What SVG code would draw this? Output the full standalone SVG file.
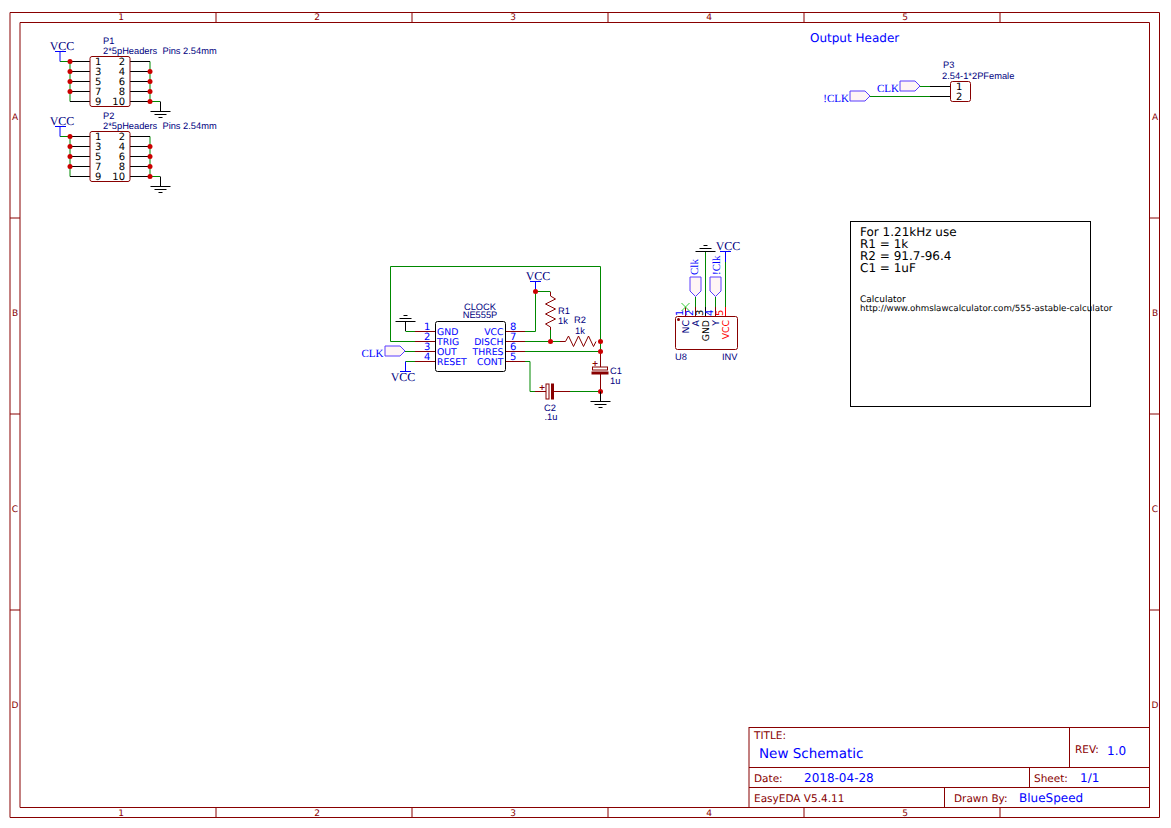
<svg xmlns="http://www.w3.org/2000/svg" width="1171" height="828" viewBox="0 0 1171 828">
<style>
text{white-space:pre;text-rendering:geometricPrecision}
.dj{font-family:"DejaVu Sans",sans-serif}
.fr{fill:none;stroke:#880000;stroke-width:1}
.fl{fill:#880000;font-size:9px;text-anchor:middle;font-family:"DejaVu Sans",sans-serif}
.tb{fill:#880000;font-size:10.500px;font-family:"DejaVu Sans",sans-serif}
.tv{fill:#0000ff;font-family:"DejaVu Sans",sans-serif}
.w{fill:none;stroke:#008800;stroke-width:1}
.pin{fill:none;stroke:#880000;stroke-width:1}
.pk{fill:none;stroke:#000;stroke-width:1}
.box{fill:#fff;stroke:#880000;stroke-width:1}
.d{fill:#cc0000}
.bl{fill:none;stroke:#0000ff;stroke-width:1}
.gnd{fill:none;stroke:#000;stroke-width:1}
.flag{fill:#fff5f5;stroke:#5a3cff;stroke-width:1}
.net{font-family:"Liberation Serif",serif;font-size:12px;fill:#000080}
.netb{font-family:"Liberation Serif",serif;font-size:11px;fill:#0000ff}
.lab{font-family:"Liberation Sans",sans-serif;font-size:9.300px;fill:#000080}
.pn{font-family:"DejaVu Sans",sans-serif;font-size:10px;fill:#000}
.pb{font-family:"DejaVu Sans",sans-serif;font-size:10px;fill:#0000ff}
.pi{font-family:"DejaVu Sans",sans-serif;font-size:9.300px;fill:#0000ff}
.note{font-family:"DejaVu Sans",sans-serif;font-size:12px;fill:#000}
.sm{font-family:"DejaVu Sans",sans-serif;font-size:9px;fill:#000}
</style>
<defs>
<g id="gs"><path class="gnd" d="M-10 0H10M-6 3H6M-2 6H2"/></g>
<g id="hdr">
<path class="w" d="M-20 -40V0M60 -40V0"/>
<path class="pk" d="M-20 -40H0M-20 -30H0M-20 -20H0M-20 -10H0M-20 0H0M40 -40H60M40 -30H60M40 -20H60M40 -10H60M40 0H60"/>
<rect class="box" x="0" y="-45" width="40" height="50" rx="2"/>
<circle class="d" cx="-20" cy="-40" r="2.500"/><circle class="d" cx="-20" cy="-30" r="2.500"/><circle class="d" cx="-20" cy="-20" r="2.500"/><circle class="d" cx="-20" cy="-10" r="2.500"/>
<circle class="d" cx="60" cy="-30" r="2.500"/><circle class="d" cx="60" cy="-20" r="2.500"/><circle class="d" cx="60" cy="-10" r="2.500"/><circle class="d" cx="60" cy="0" r="2.500"/>
<text class="pn" x="5" y="-36.500">1</text><text class="pn" x="5" y="-26.500">3</text><text class="pn" x="5" y="-16.500">5</text><text class="pn" x="5" y="-6.500">7</text><text class="pn" x="5" y="3.500">9</text><text class="pn" x="35" y="-36.500" text-anchor="end">2</text><text class="pn" x="35" y="-26.500" text-anchor="end">4</text><text class="pn" x="35" y="-16.500" text-anchor="end">6</text><text class="pn" x="35" y="-6.500" text-anchor="end">8</text><text class="pn" x="35" y="3.500" text-anchor="end">10</text>
</g>
</defs>
<rect width="1171" height="828" fill="#fff"/>
<g id="frame">
<path class="fr" d="M10 12.500H1159.500V817.500H10ZM20 22.500H1149.500V807.500H20Z"/>
<path class="fr" d="M216 12V22M412 12V22M608 12V22M804 12V22M1000 12V22M216 808V818M412 808V818M608 808V818M804 808V818M1000 808V818M10 218H20M10 414H20M10 610H20M1150 218H1160M1150 414H1160M1150 610H1160"/>
<g class="fl"><text x="121" y="20">1</text><text x="317" y="20">2</text><text x="513" y="20">3</text><text x="709" y="20">4</text><text x="905" y="20">5</text><text x="121" y="816">1</text><text x="317" y="816">2</text><text x="513" y="816">3</text><text x="709" y="816">4</text><text x="905" y="816">5</text><text x="15" y="120">A</text><text x="15" y="316">B</text><text x="15" y="512">C</text><text x="15" y="708">D</text><text x="1155" y="120">A</text><text x="1155" y="316">B</text><text x="1155" y="512">C</text><text x="1155" y="708">D</text></g>
</g>
<g id="title-block">
<rect x="749" y="727.500" width="400.500" height="80" fill="#fff" stroke="#880000"/>
<path class="fr" d="M749 767.500H1150M749 787.500H1150M1069.500 727V767M1029.500 767V787M944.500 787V807"/>
<text class="tb" x="754" y="739">TITLE:</text>
<text class="tv" x="759" y="758" font-size="13.500">New Schematic</text>
<text class="tb" x="1075" y="753">REV:</text>
<text class="tv" x="1107" y="755" font-size="12">1.0</text>
<text class="tb" x="754" y="782">Date:</text>
<text class="tv" x="804" y="782" font-size="12">2018-04-28</text>
<text class="tb" x="1034" y="782">Sheet:</text>
<text class="tv" x="1080" y="782" font-size="12">1/1</text>
<text class="tb" x="754" y="802">EasyEDA V5.4.11</text>
<text class="tb" x="954" y="802">Drawn By:</text>
<text class="tv" x="1019" y="802" font-size="12">BlueSpeed</text>
</g>
<g id="connectors">
<path class="w" d="M60 61.500H70M150 101.500H160M60 136.500H70M150 176.500H160"/>
<path class="w" d="M415 341.500H390.500V266.500H600.500V341.500M405.500 331.500H415M405.500 361.500H415M405 351.500H415"/>
<path class="w" d="M525 331.500H535.500V291.500H550.500M550.500 330V341.500M525 341.500H560M525 351.500H600M600.500 341V351.500M525 361.500H530V391.500H535M570 391.500H600"/>
<path class="w" d="M695.500 297V307M705.500 252V307M715.500 297V307M725.500 255V307"/>
<path class="w" d="M920 86.500H930M870 96.500H930"/>
<path class="pk" d="M160.500 101.500V111M160.500 176.500V186M405.500 321V331"/>
</g>
<g id="P1" transform="translate(90 101.500)"><use href="#hdr"/></g>
<g id="P1-labels"><text class="lab" x="103" y="44">P1</text><text class="lab" x="103" y="53.500">2*5pHeaders  Pins 2.54mm</text></g>
<g id="P2" transform="translate(90 176.500)"><use href="#hdr"/></g>
<g id="P2-labels"><text class="lab" x="103" y="119">P2</text><text class="lab" x="103" y="128.500">2*5pHeaders  Pins 2.54mm</text></g>
<g id="vcc1"><path class="bl" d="M55 51.500H66M60 51.500V61.500"/><text class="net" x="62" y="49.500" text-anchor="middle">VCC</text></g>
<g id="vcc2"><path class="bl" d="M55 126.500H66M60 126.500V136.500"/><text class="net" x="62" y="124.500" text-anchor="middle">VCC</text></g>
<use id="gnd1" href="#gs" x="160.500" y="111.500"/>
<use id="gnd2" href="#gs" x="160.500" y="186.500"/>
<g id="U1">
<path class="pin" d="M415 331.500H435M415 341.500H435M415 351.500H435M415 361.500H435M505 331.500H525M505 341.500H525M505 351.500H525M505 361.500H525"/>
<rect x="435.500" y="321.500" width="70" height="50" rx="2" fill="#fff" stroke="#000"/>
<text class="lab" x="480" y="309.500" text-anchor="middle">CLOCK</text><text class="lab" x="480" y="318" text-anchor="middle">NE555P</text>
<text class="pi" x="437" y="334.500">GND</text><text class="pi" x="437" y="344.500">TRIG</text><text class="pi" x="437" y="354.500">OUT</text><text class="pi" x="437" y="364.500">RESET</text><text class="pi" x="503.500" y="334.500" text-anchor="end">VCC</text><text class="pi" x="503.500" y="344.500" text-anchor="end">DISCH</text><text class="pi" x="503.500" y="354.500" text-anchor="end">THRES</text><text class="pi" x="503.500" y="364.500" text-anchor="end">CONT</text>
<text class="pb" x="424" y="330">1</text><text class="pb" x="424" y="340">2</text><text class="pb" x="424" y="350">3</text><text class="pb" x="424" y="360">4</text><text class="pb" x="510" y="330">8</text><text class="pb" x="510" y="340">7</text><text class="pb" x="510" y="350">6</text><text class="pb" x="510" y="360">5</text>
</g>
<g id="gnd3" transform="translate(405.500 321.500) scale(1 -1)"><use href="#gs"/></g>
<g id="clk-flag"><path class="flag" d="M385 346H400L405 351L400 356H385Z"/><text class="netb" x="383.500" y="356.500" text-anchor="end">CLK</text></g>
<g id="vcc3"><path class="bl" d="M405.500 361.500V371.500M400 371.500H411"/><text class="net" x="403" y="381" text-anchor="middle">VCC</text></g>
<g id="vcc4"><path class="bl" d="M530 281.500H541M535.500 281.500V291.500"/><text class="net" x="538" y="279.500" text-anchor="middle">VCC</text></g>
<g id="R1"><path class="pin" d="M550.500 292V296L555.500 299L545.500 304L555.500 309L545.500 314L555.500 319L545.500 324L550.500 327V330"/><text class="lab" x="558" y="313.500">R1</text><text class="lab" x="558" y="323.500">1k</text></g>
<g id="R2"><path class="pin" d="M560 341.500H565.500L568.500 336L573.500 346.500L578.500 336L583.500 346.500L588.500 336L593.500 346.500L596 341.500"/><text class="lab" x="580" y="323" text-anchor="middle">R2</text><text class="lab" x="580" y="333.500" text-anchor="middle">1k</text></g>
<g id="C1"><path class="pin" d="M600.500 351.500V367M600.500 374V391.500"/><rect x="592.500" y="367" width="15" height="3" fill="#fff" stroke="#880000"/><rect x="592" y="372" width="16" height="2" fill="#880000" stroke="#880000"/><text x="595" y="366" font-size="8" fill="#880000" font-weight="bold" text-anchor="middle" class="dj">+</text><text class="lab" x="610" y="374">C1</text><text class="lab" x="610" y="384">1u</text></g>
<g id="C2"><rect x="546" y="384" width="3" height="15" fill="#fff" stroke="#880000"/><rect x="551.500" y="384" width="2" height="15" fill="#880000" stroke="#880000"/><path class="pin" d="M535 391.500H546M554 391.500H570"/><text x="542" y="390" font-size="8" fill="#880000" font-weight="bold" text-anchor="middle" class="dj">+</text><text class="lab" x="550" y="411" text-anchor="middle">C2</text><text class="lab" x="551" y="420" text-anchor="middle">.1u</text></g>
<g id="junctions"><circle class="d" cx="535.500" cy="291.500" r="2.500"/><circle class="d" cx="550.500" cy="341.500" r="2.500"/><circle class="d" cx="600.500" cy="341.500" r="2.500"/><circle class="d" cx="600.500" cy="351.500" r="2.500"/><circle class="d" cx="600.500" cy="391.500" r="2.500"/></g>
<use id="gnd4" href="#gs" x="600.500" y="401.500"/>
<path class="pk" d="M600.500 391.500V401"/>
<g id="U8">
<path d="M685.500 307V317" stroke="#880000"/><path d="M695.500 307V317" stroke="#880000"/><path d="M705.500 307V317" stroke="#000"/><path d="M715.500 307V317" stroke="#880000"/><path d="M725.500 307V317" stroke="#ff0000"/>
<rect class="box" x="675.500" y="316.500" width="62" height="33" rx="2"/><circle cx="678.500" cy="319.500" r="1.500" fill="#880000"/>
<path d="M681.500 303L689.500 311M689.500 303L681.500 311" stroke="#33cc33" fill="none"/>
<text class="pb" transform="translate(683 316) rotate(-90)">1</text><text class="pb" transform="translate(693 316) rotate(-90)">2</text><text class="pb" transform="translate(703 316) rotate(-90)" style="fill:#000">3</text><text class="pb" transform="translate(713 316) rotate(-90)">4</text><text class="pb" transform="translate(723 316) rotate(-90)" style="fill:#f00">5</text>
<text class="dj" font-size="9.300" transform="translate(689 320) rotate(-90)" text-anchor="end" fill="#000080">NC</text><text class="dj" font-size="9.300" transform="translate(699 320) rotate(-90)" text-anchor="end" fill="#000080">A</text><text class="dj" font-size="9.300" transform="translate(709 320) rotate(-90)" text-anchor="end" fill="#000">GND</text><text class="dj" font-size="9.300" transform="translate(719 320) rotate(-90)" text-anchor="end" fill="#000080">Y</text><text class="dj" font-size="9.300" transform="translate(729 320) rotate(-90)" text-anchor="end" fill="#f00">VCC</text>
<text class="lab" x="675" y="360">U8</text><text class="lab" x="722" y="360">INV</text>
</g>
<g id="flag-u8"><path class="flag" d="M690 277H701V291L695.500 296.500L690 291Z"/><text class="netb" transform="translate(698 275) rotate(-90)">Clk</text></g>
<g id="flag-u8b"><path class="flag" d="M710 277H721V291L715.500 296.500L710 291Z"/><text class="netb" transform="translate(720 275) rotate(-90)">!Clk</text></g>
<g id="gnd5" transform="translate(705.500 251.500) scale(1 -1)"><use href="#gs"/></g>
<g id="vcc5"><path class="bl" d="M720 251.500H731M725.500 251.500V262"/><text class="net" x="728" y="249.500" text-anchor="middle">VCC</text></g>
<g id="note-header"><text class="dj" x="810" y="41.500" font-size="12" fill="#0000ff">Output Header</text></g>
<g id="P3"><path class="pk" d="M930 86.500H950M930 96.500H950"/><rect class="box" x="950.500" y="81.500" width="20" height="20" rx="2"/><text class="pn" x="956" y="90">1</text><text class="pn" x="956" y="100">2</text><text class="lab" x="943" y="68">P3</text><text class="lab" x="942" y="78.500">2.54-1*2PFemale</text></g>
<g id="flag-clk"><path class="flag" d="M900 81H915L920 86L915 91H900Z"/><text class="netb" x="899" y="91.500" text-anchor="end">CLK</text></g>
<g id="flag-nclk"><path class="flag" d="M850 91H865L870 96L865 101H850Z"/><text class="netb" x="849" y="101.500" text-anchor="end">!CLK</text></g>
<g id="note"><rect x="850.500" y="221.500" width="240" height="185" fill="none" stroke="#000"/>
<text class="note" x="860" y="236">For 1.21kHz use</text><text class="note" x="860" y="248">R1 = 1k</text><text class="note" x="860" y="260">R2 = 91.7-96.4</text><text class="note" x="860" y="272">C1 = 1uF</text><text class="sm" x="860" y="301.500">Calculator</text><text class="sm" x="860" y="310.500" font-size="8.700" style="font-size:8.700px">http://www.ohmslawcalculator.com/555-astable-calculator</text></g>
</svg>
